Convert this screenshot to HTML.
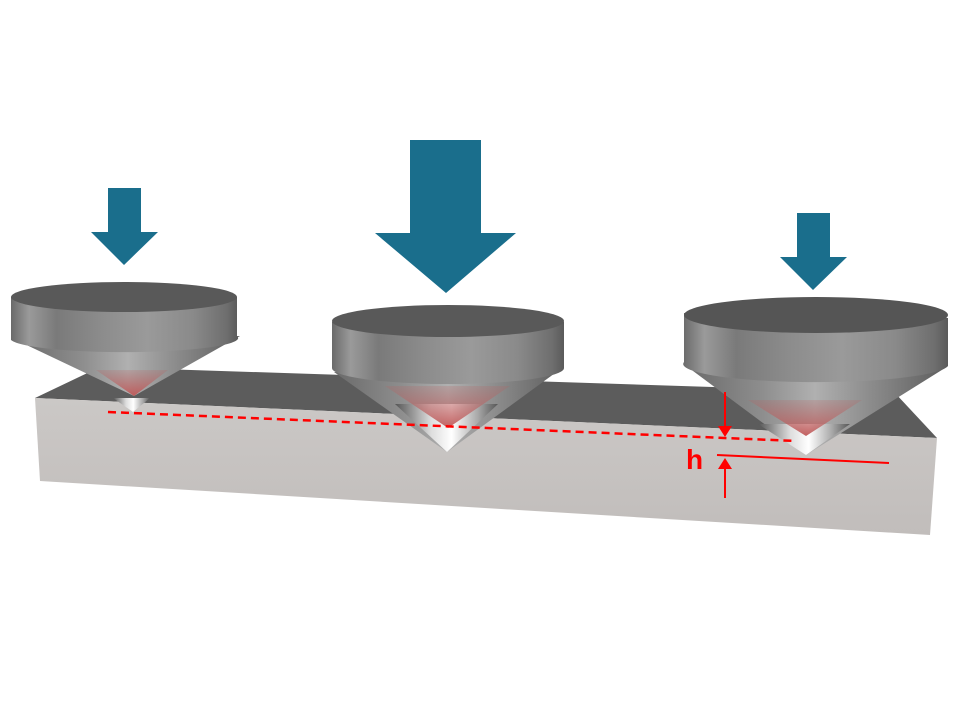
<!DOCTYPE html>
<html><head><meta charset="utf-8"><style>
html,body{margin:0;padding:0;background:#fff;width:960px;height:721px;overflow:hidden}
</style></head><body>
<svg width="960" height="721" viewBox="0 0 960 721" xmlns="http://www.w3.org/2000/svg">
<defs>
<linearGradient id="cyl" x1="0" x2="1" y1="0" y2="0">
<stop offset="0" stop-color="#6a6a6a"/><stop offset="0.08" stop-color="#9a9a9a"/><stop offset="0.2" stop-color="#7a7a7a"/><stop offset="0.4" stop-color="#8c8c8c"/><stop offset="0.6" stop-color="#9a9a9a"/><stop offset="0.8" stop-color="#8a8a8a"/><stop offset="0.95" stop-color="#6e6e6e"/><stop offset="1" stop-color="#5a5a5a"/>
</linearGradient>
<linearGradient id="cone" x1="0" x2="1" y1="0" y2="0">
<stop offset="0" stop-color="#6a6a6a"/><stop offset="0.3" stop-color="#8e8e8e"/><stop offset="0.5" stop-color="#b0b0b0"/><stop offset="0.7" stop-color="#8e8e8e"/><stop offset="1" stop-color="#5e5e5e"/>
</linearGradient>
<linearGradient id="tipg" x1="0" x2="1" y1="0" y2="0">
<stop offset="0" stop-color="#555"/><stop offset="0.35" stop-color="#ddd"/><stop offset="0.55" stop-color="#fff"/><stop offset="0.8" stop-color="#aaa"/><stop offset="1" stop-color="#555"/>
</linearGradient>
<linearGradient id="red" x1="0" x2="0" y1="0" y2="1">
<stop offset="0" stop-color="#b86060" stop-opacity="0.2"/><stop offset="1" stop-color="#c05858" stop-opacity="0.95"/>
</linearGradient>
<linearGradient id="front" x1="0" x2="0" y1="0" y2="1">
<stop offset="0" stop-color="#cbc8c6"/><stop offset="1" stop-color="#c1bdbb"/>
</linearGradient>
</defs>

<polygon points="35,398 100,367 895,393 937,438" fill="#5c5c5c"/>
<polygon points="35,398 937,438 930,535 40,481" fill="url(#front)"/>

<polygon points="108,188 141,188 141,232 158,232 124,265 91,232 108,232" fill="#1a6e8c"/>
<polygon points="410,140 481,140 481,233 516,233 446,293 375,233 410,233" fill="#1a6e8c"/>
<polygon points="797,213 830,213 830,257 847,257 813,290 780,257 797,257" fill="#1a6e8c"/>

<!-- left -->
<path d="M16,340 L134,396 L240,336 Z" fill="url(#cone)"/>
<path d="M96,370 L134,396 L168,370 Z" fill="url(#red)"/>
<path d="M113,398 L133,412 L150,398 Z" fill="url(#tipg)"/>
<path d="M11,297 L11,340 A113,14 0 0 0 237,336 L237,297 Z" fill="url(#cyl)"/>
<ellipse cx="124" cy="297" rx="113" ry="15" fill="#595959"/>

<!-- middle -->
<path d="M334,372 L447,452 L562,368 Z" fill="url(#cone)"/>
<path d="M395,404 L447,452 L498,404 Z" fill="url(#tipg)"/>
<path d="M385,386 L448,428 L510,386 Z" fill="url(#red)"/>
<path d="M332,322 L332,368 A116,16 0 0 0 564,368 L564,322 Z" fill="url(#cyl)"/>
<ellipse cx="448" cy="321" rx="116" ry="16" fill="#595959"/>

<!-- right -->
<path d="M685,365 L806,455 L945,368 Z" fill="url(#cone)"/>
<path d="M758,424 L806,455 L850,424 Z" fill="url(#tipg)"/>
<path d="M748,400 L806,436 L862,400 Z" fill="url(#red)"/>
<path d="M684,313 L684,362 A132,18 0 0 0 948,366 L948,318 Z" fill="url(#cyl)"/>
<ellipse cx="816" cy="315" rx="132" ry="18" fill="#555555"/>

<line x1="108" y1="412" x2="796" y2="441" stroke="#f00" stroke-width="2.5" stroke-dasharray="8,5"/>
<line x1="725" y1="392" x2="725" y2="428" stroke="#f00" stroke-width="2"/>
<polygon points="718,426 732,426 725,437" fill="#f00"/>
<line x1="717" y1="455" x2="889" y2="463" stroke="#f00" stroke-width="2"/>
<line x1="725" y1="468" x2="725" y2="498" stroke="#f00" stroke-width="2"/>
<polygon points="718,469 732,469 725,458" fill="#f00"/>
<text x="686" y="469" font-family="Liberation Sans, sans-serif" font-size="28" font-weight="bold" fill="#f00">h</text>
</svg>
</body></html>
